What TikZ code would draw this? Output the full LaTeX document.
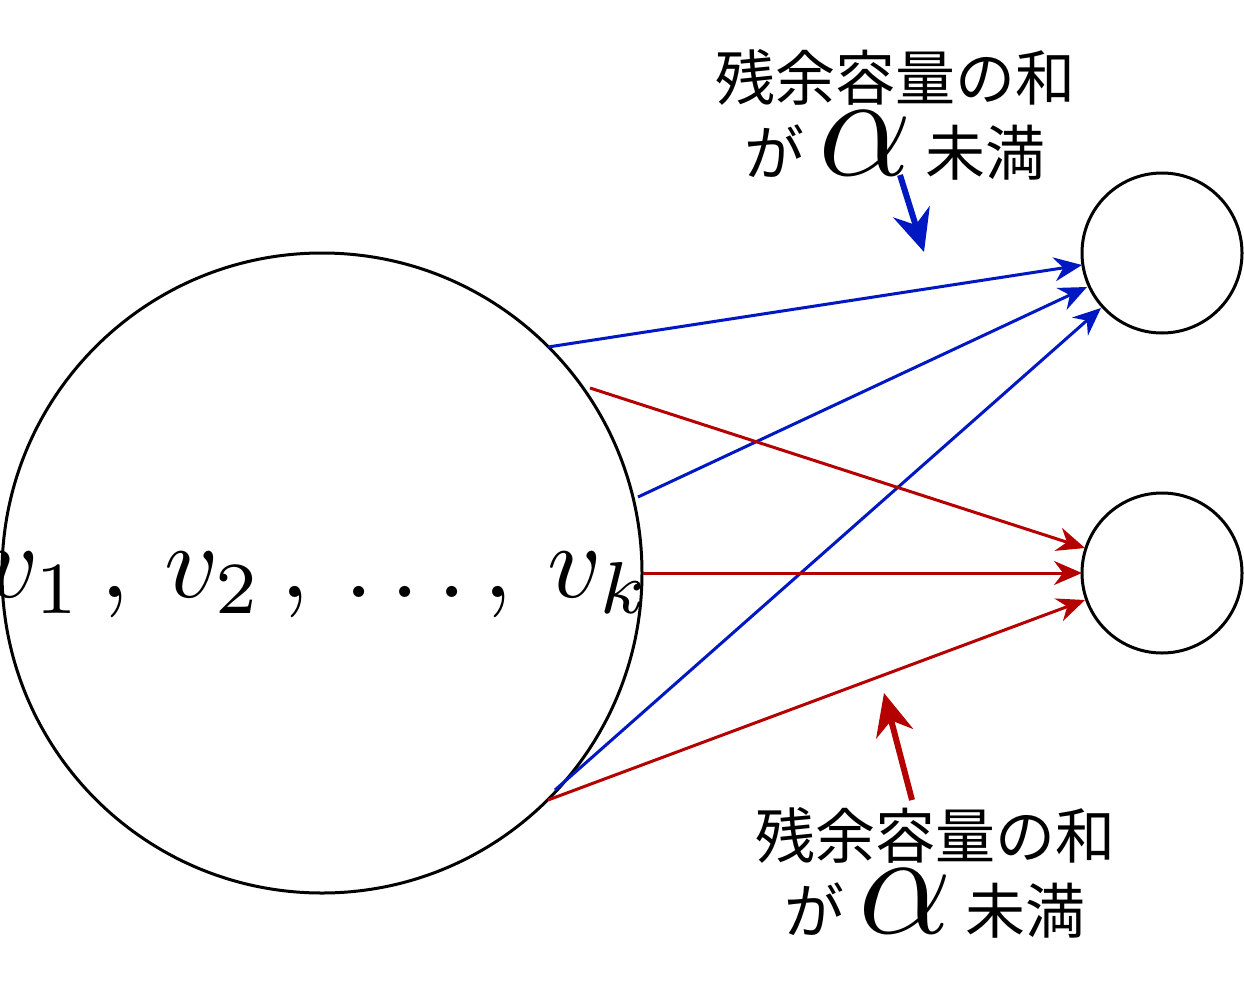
\documentclass[tikz,border=0pt]{standalone}
\usepackage{graphicx}
\usepackage{fontspec}
\newfontfamily\cjk{Noto Sans CJK JP}
\usetikzlibrary{arrows.meta}
\definecolor{eblue}{HTML}{0018C2}
\definecolor{ered}{HTML}{B50000}
\newcommand{\bigalpha}{\scalebox{6}{$\alpha$}}
\begin{document}
\begin{tikzpicture}[x=1pt,y=-1pt,
  blk/.style={draw=black,line width=3pt},
  edge/.style={line width=3pt,-{Stealth[length=28pt,width=24pt]}},
  note/.style={line width=6pt,-{Stealth[length=42pt,width=38pt]}},
  lbl/.style={font=\cjk\fontsize{60}{75}\selectfont,align=center}]
\useasboundingbox (0,0) rectangle (1244,988);
\node[blk,circle,minimum size=640pt,inner sep=0] (big) at (322,573) {};
\node at (318,585) {\scalebox{10.5}{$v_1\,,\,v_2\,,\,\ldots,\,v_k$}};
\node[blk,circle,minimum size=160pt,inner sep=0] (t) at (1162,253) {};
\node[blk,circle,minimum size=160pt,inner sep=0] (b) at (1162,573) {};
\coordinate (s1) at (548,347); \coordinate (e1) at (1082,265);
\coordinate (s2) at (638,497); \coordinate (e2) at (1087,287);
\coordinate (s3) at (555,790); \coordinate (e3) at (1101,308);
\coordinate (r1) at (590,388); \coordinate (f1) at (1085,548);
\coordinate (r2) at (643,573); \coordinate (f2) at (1082,573);
\coordinate (r3) at (548,800); \coordinate (f3) at (1085,600);
\draw[edge,eblue] (s1) -- (e1);
\draw[edge,eblue] (s2) -- (e2);
\draw[edge,eblue] (s3) -- (e3);
\draw[edge,ered] (r1) -- (f1);
\draw[edge,ered] (r2) -- (f2);
\draw[edge,ered] (r3) -- (f3);
\node[lbl] (tl) at (895,115) {残余容量の和\\が \bigalpha{} 未満};
\node[lbl] (bl) at (935,873) {残余容量の和\\が \bigalpha{} 未満};
\coordinate (a1) at (900,175); \coordinate (a2) at (924,252);
\coordinate (c1) at (912,800); \coordinate (c2) at (884,693);
\draw[note,eblue] (a1) -- (a2);
\draw[note,ered] (c1) -- (c2);
\end{tikzpicture}
\end{document}
